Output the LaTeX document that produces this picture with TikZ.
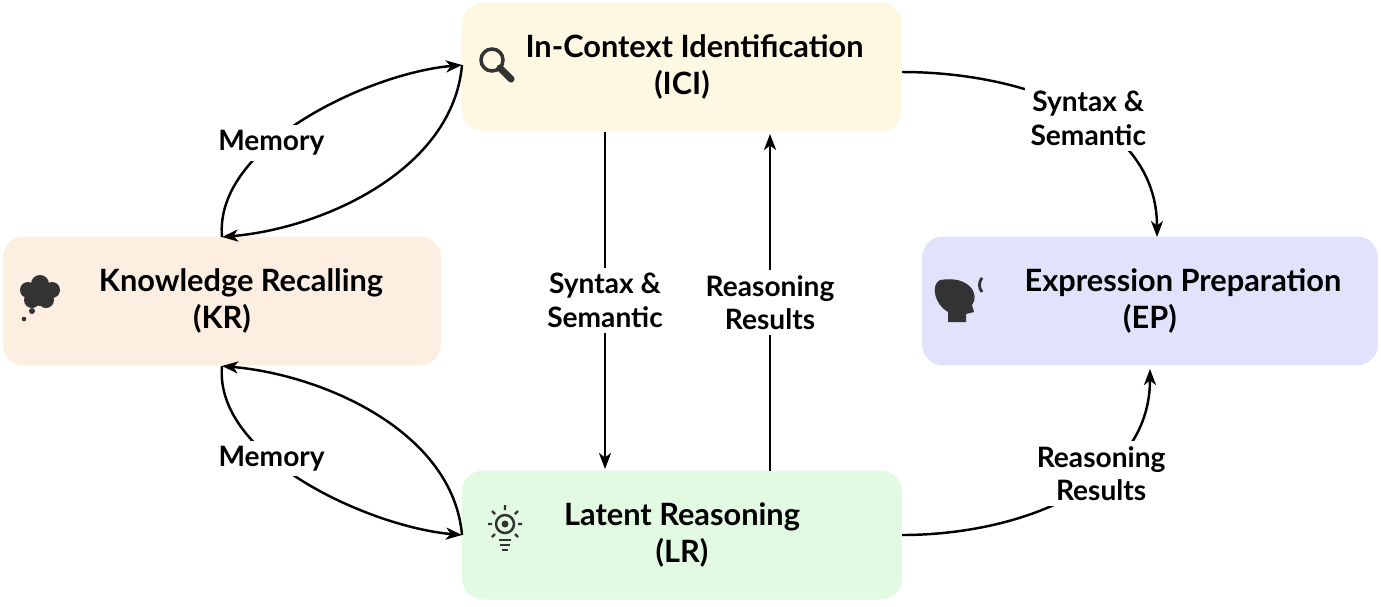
\documentclass[tikz,border=0pt]{standalone}
\usepackage{fontspec}
\setmainfont{Lato}
\usetikzlibrary{arrows.meta}
\definecolor{iciC}{HTML}{FDF8E1}
\definecolor{krC}{HTML}{FDEEE2}
\definecolor{epC}{HTML}{E1E2FB}
\definecolor{lrC}{HTML}{E2F9E2}
\definecolor{icon}{HTML}{333333}
\begin{document}
\begin{tikzpicture}[x=0.02cm,y=-0.02cm,
  box/.style={rounded corners=12pt, minimum width=8.8cm, minimum height=2.58cm,
    font=\fontsize{17.5}{21.5}\selectfont\bfseries, align=center, inner sep=0pt},
  arr/.style={line width=1.4pt, -{Stealth[length=3.2mm,width=2.4mm,inset=0.9mm]}},
  lbl/.style={fill=white, font=\fontsize{16}{19}\selectfont\bfseries, align=center, inner sep=3pt}]
\useasboundingbox (0,0) rectangle (1381,606);
% boxes
\node[box, fill=iciC] (ici) at (682,67) {\hspace*{0.5cm}In-Context Identification\\(ICI)};
\node[box, fill=krC, minimum width=8.76cm] (kr) at (222,301) {\hspace*{0.76cm}Knowledge Recalling\\(KR)};
\node[box, fill=epC, minimum width=9.12cm] (ep) at (1150,301) {\hspace*{1.32cm}Expression Preparation\\(EP)};
\node[box, fill=lrC] (lr) at (682,535) {Latent Reasoning\\(LR)};
% anchors
\coordinate (krT) at (222,237);
\coordinate (krB) at (222,366);
\coordinate (iciL) at (462,65);
\coordinate (lrL) at (462,535);
% vertical arrows
\draw[arr] (605,132) -- node[lbl] {Syntax \&\\Semantic} (605,469);
\draw[arr] (770,471) -- node[lbl] {Reasoning\\Results} (770,134);
% memory loops
\draw[arr] (krT) to[out=95,in=185,looseness=0.8] node[lbl,pos=0.38] {Memory} (iciL);
\draw[arr] (iciL) to[out=-95,in=5,looseness=0.9] (krT);
\draw[arr] (krB) to[out=-95,in=175,looseness=0.8] node[lbl,pos=0.38] {Memory} (lrL);
\draw[arr] (lrL) to[out=95,in=-5,looseness=0.9] (krB);
% right arrows
\draw[arr] (902,72) to[out=0,in=90,looseness=1.0] node[lbl,pos=0.55] {Syntax \&\\Semantic} (1157,237);
\draw[arr] (902,535) to[out=0,in=-90,looseness=1.0] node[lbl,pos=0.62] {Reasoning\\Results} (1150,369);
% icons
\begin{scope}[icon]
 \draw[line width=2pt] (492,60) circle (11);
 \draw[line width=4pt,line cap=round] (500,68) -- (511,79);
 \fill (28,290) circle (8) (40,284) circle (9) (52,290) circle (8) (46,300) circle (8) (32,300) circle (8) (40,298) circle(8);
 \fill (32,311) circle (3) (24,319) circle (2.3);
 \fill (940,280) .. controls (970,275) and (980,295) .. (972,305) -- (974,312) -- (966,314) -- (966,322) -- (948,322) -- (948,312) .. controls (935,305) and (930,285) .. (940,280) -- cycle;
 \draw[line width=1.6pt] (982,292) arc (-40:40:-11);
 \draw[line width=1.4pt] (505,524) circle (9);
 \draw[line width=1.4pt] (499,540) -- (511,540) (500,545) -- (510,545) (502,550) -- (508,550);
 \fill (505,524) circle (3.5);
 \draw[line width=1.3pt] (505,505) -- (505,510) (488,524) -- (492,524) (518,524) -- (522,524) (492,511) -- (495,514) (518,511) -- (515,514) (492,537) -- (495,534) (518,537) -- (515,534);
\end{scope}
\end{tikzpicture}
\end{document}
